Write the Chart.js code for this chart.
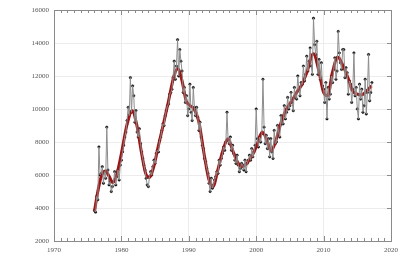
<!DOCTYPE html>
<html>
<head>
<meta charset="utf-8">
<script src="https://cdn.jsdelivr.net/npm/chart.js@4"></script>
<style>
  html, body { margin: 0; padding: 0; background: #fff; }
  #wrap { width: 420px; height: 260px; }
</style>
</head>
<body>
<div id="wrap"><canvas id="chart" width="420" height="260"></canvas></div>
<script>
// Raw observations, six per year, first one at 1976.0
const rawStartYear = 1976;
const rawPerYear = 6;
const rawValues = [
  3850, 3750, 4700, 4500, 7700, 6000,      // 1976
  6100, 6500, 5500, 6200, 5800, 8900,      // 1977
  6300, 5400, 5600, 5000, 5300, 5600,      // 1978
  6200, 5400, 5900, 6300, 5700, 6600,      // 1979
  6900, 7400, 7800, 8300, 8600, 9300,      // 1980
  10100, 9600, 11900, 9800, 11400, 10800,  // 1981
  9200, 9900, 8600, 8300, 8800, 7900,      // 1982
  7400, 7000, 6600, 6300, 5800, 5400,      // 1983
  5300, 5900, 6200, 6000, 6500, 6900,      // 1984
  6700, 7300, 7500, 7400, 8100, 8300,      // 1985
  8700, 9100, 9000, 9600, 9900, 10200,     // 1986
  10300, 10900, 11000, 11200, 11900, 12900,// 1987
  11800, 12600, 14200, 12000, 13600, 12900,// 1988
  12300, 11000, 11300, 10400, 10800, 9600, // 1989
  10000, 11500, 9800, 9300, 11300, 10100,  // 1990
  9600, 10100, 9500, 8700, 9200, 8300,     // 1991
  7800, 7600, 7000, 6800, 6400, 6100,      // 1992
  5500, 5000, 5800, 5200, 5400, 5700,      // 1993
  5900, 6200, 6100, 6900, 6600, 7000,      // 1994
  7300, 7700, 7500, 8000, 9800, 8100,      // 1995
  7900, 8300, 7500, 7800, 7300, 6900,      // 1996
  6700, 7200, 6600, 6200, 6400, 6700,      // 1997
  6600, 6300, 6900, 6200, 6700, 6900,      // 1998
  7200, 6900, 7600, 7100, 7400, 7800,      // 1999
  10000, 8200, 7700, 8300, 8000, 8500,     // 2000
  11800, 8900, 7900, 8400, 7600, 8200,     // 2001
  7100, 8200, 7400, 7000, 8700, 7900,      // 2002
  8000, 9000, 8600, 8300, 9600, 9100,      // 2003
  9100, 10200, 9400, 9800, 10700, 10000,   // 2004
  10200, 11000, 10400, 9900, 11300, 10700, // 2005
  10600, 12000, 11200, 10800, 11600, 11500,// 2006
  12600, 11700, 12100, 13200, 12300, 12900,// 2007
  13700, 12600, 12100, 15500, 13900, 13300,// 2008
  14100, 12100, 13000, 11800, 12800, 11400,// 2009
  11200, 10400, 11600, 9400, 11300, 10600, // 2010
  10900, 12000, 11600, 12400, 13100, 11800,// 2011
  12300, 14700, 13400, 12800, 12400, 13600,// 2012
  13600, 11900, 12500, 12200, 10900, 11700,// 2013
  11500, 10400, 11200, 13400, 10800, 11300,// 2014
  10000, 9400, 11500, 10600, 11200, 9800,  // 2015
  10200, 11800, 9700, 11000, 13300, 10500, // 2016
  11000, 11600                             // 2017
];

// Smoothed trend (red curve)
const smoothYears = [
  1976.0, 1976.5, 1977.0, 1977.6, 1978.2, 1978.7, 1979.3, 1980.0, 1980.8, 1981.6,
  1982.3, 1983.0, 1983.6, 1984.1, 1984.8, 1985.5, 1986.3, 1987.0, 1987.8, 1988.4,
  1989.0, 1989.6, 1990.2, 1990.8, 1991.5, 1992.3, 1993.0, 1993.6, 1994.3, 1995.0,
  1995.8, 1996.5, 1997.2, 1997.9, 1998.6, 1999.3, 2000.0, 2000.9, 2001.6, 2002.2,
  2003.0, 2003.7, 2004.5, 2005.3, 2006.0, 2006.8, 2007.5, 2008.5, 2009.3, 2010.0,
  2010.6, 2011.3, 2012.1, 2012.8, 2013.6, 2014.3, 2015.0, 2015.6, 2016.4, 2017.1
];
const smoothValues = [
  3800, 5000, 5900, 6250, 5900, 5550, 6000, 7300, 9000, 9900,
  9000, 7300, 6100, 5850, 6500, 7800, 9200, 10500, 12000, 12450,
  11700, 10500, 10200, 10000, 9200, 7200, 5700, 5300, 6300, 7400,
  8200, 7500, 6800, 6500, 6700, 7100, 7700, 8600, 8100, 7450,
  8200, 9200, 10000, 10500, 11000, 11500, 12200, 13350, 12300, 11000,
  10800, 12200, 13150, 12700, 11900, 11100, 10900, 10850, 11100, 11400
];

// Axis ticks
const xTicks = [1970, 1980, 1990, 2000, 2010, 2020];
const yTicks = [2000, 4000, 6000, 8000, 10000, 12000, 14000, 16000];

const rawPoints = rawValues.map((v, i) => ({ x: rawStartYear + i / rawPerYear, y: v }));
const smoothPoints = smoothValues.map((v, i) => ({ x: smoothYears[i], y: v }));

// Box frame with inward ticks (yearly on top/bottom, major on right)
const framePlugin = {
  id: 'frame',
  afterDraw(chart) {
    const { ctx, chartArea: a, scales } = chart;
    ctx.save();
    ctx.strokeStyle = '#8a8a8a';
    ctx.lineWidth = 1;
    ctx.strokeRect(a.left + 0.5, a.top + 0.5, a.right - a.left, a.bottom - a.top);
    ctx.beginPath();
    for (let yr = xTicks[0]; yr <= xTicks[xTicks.length - 1]; yr++) {
      const x = Math.round(scales.x.getPixelForValue(yr)) + 0.5;
      const len = yr % 10 === 0 ? 5 : 3;
      ctx.moveTo(x, a.bottom);
      ctx.lineTo(x, a.bottom - len);
      ctx.moveTo(x, a.top);
      ctx.lineTo(x, a.top + len);
    }
    yTicks.forEach(v => {
      const y = Math.round(scales.y.getPixelForValue(v)) + 0.5;
      ctx.moveTo(a.right, y);
      ctx.lineTo(a.right - 4, y);
    });
    ctx.stroke();
    ctx.restore();
  }
};

const tickFont = { family: 'Liberation Serif', size: 7 };

new Chart(document.getElementById('chart'), {
  type: 'line',
  data: {
    datasets: [
      {
        data: rawPoints,
        borderColor: '#8c8c8c',
        borderWidth: 1,
        pointRadius: 0,
        tension: 0
      },
      {
        data: smoothPoints,
        borderColor: '#9c1414',
        borderWidth: 3,
        pointRadius: 0,
        cubicInterpolationMode: 'monotone'
      },
      {
        data: rawPoints,
        showLine: false,
        pointRadius: 1.2,
        pointBackgroundColor: '#111',
        pointBorderColor: '#111',
        pointBorderWidth: 0.5
      }
    ]
  },
  options: {
    responsive: false,
    animation: false,
    layout: { padding: { left: 0, right: 29, top: 10, bottom: 0 } },
    plugins: { legend: { display: false }, tooltip: { enabled: false } },
    scales: {
      x: {
        type: 'linear',
        min: 1970,
        max: 2020,
        afterBuildTicks: s => { s.ticks = xTicks.map(v => ({ value: v })); },
        ticks: { color: '#555', font: tickFont, padding: 5, maxRotation: 0, callback: v => String(v) },
        grid: { color: '#ececec', drawTicks: false },
        border: { display: false },
        afterFit: s => { s.height = 19; }
      },
      y: {
        min: 2000,
        max: 16000,
        afterBuildTicks: s => { s.ticks = yTicks.map(v => ({ value: v })); },
        ticks: { color: '#555', font: tickFont, padding: 5, callback: v => String(v) },
        grid: { color: '#ececec', drawTicks: false },
        border: { display: false },
        afterFit: s => { s.width = 54; }
      }
    }
  },
  plugins: [framePlugin]
});
</script>
</body>
</html>
